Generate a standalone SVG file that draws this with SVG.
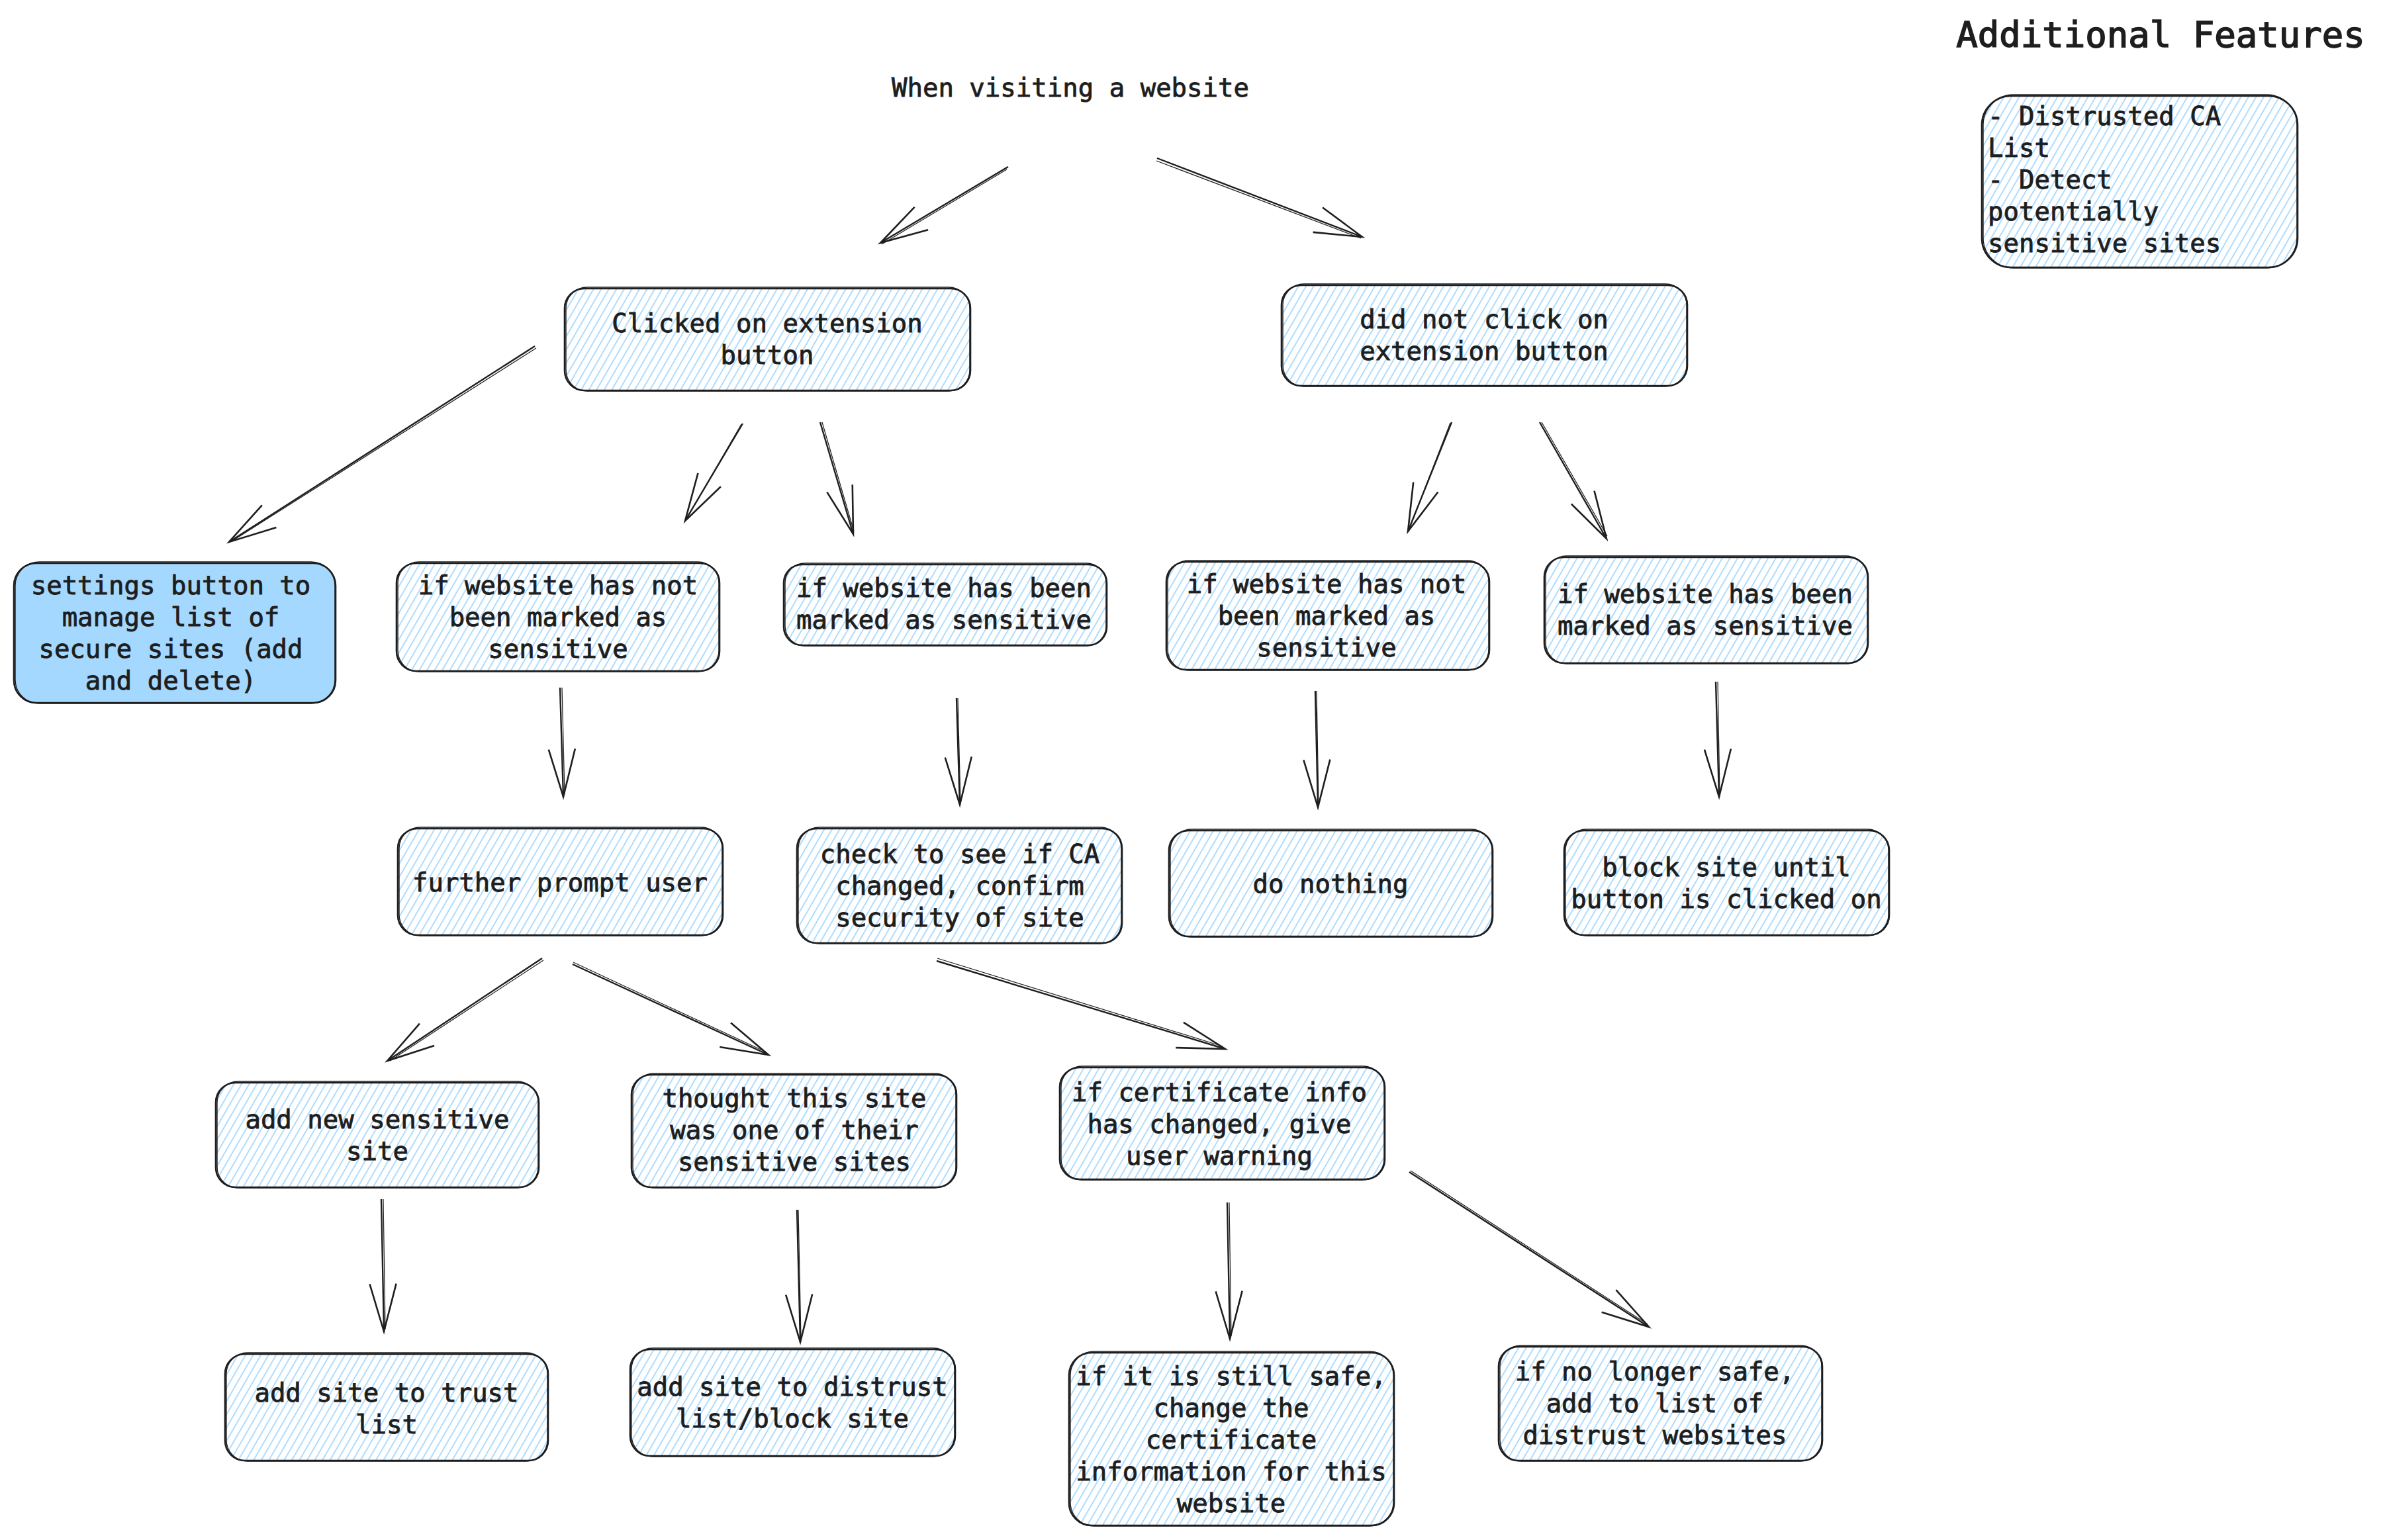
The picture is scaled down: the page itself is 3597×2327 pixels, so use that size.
<svg xmlns="http://www.w3.org/2000/svg" width="3597" height="2327" viewBox="0 0 3597 2327">
<style>
text{font-family:"DejaVu Sans Mono","Liberation Mono",monospace;font-size:39px;fill:#1e1e1e;stroke:#1e1e1e;stroke-width:0.9;text-anchor:middle}
.l{text-anchor:start}
.title{font-size:54px;stroke-width:1.6}
.box{fill:url(#hatch);stroke:#1e1e1e;stroke-width:2.6}
.solid{fill:#a5d8ff;stroke:#1e1e1e;stroke-width:2.6}
.sk{fill:none;stroke:#1e1e1e;stroke-width:1.4}
.c{fill:none;stroke:#1e1e1e;stroke-width:2.4;marker-end:url(#ah)}
.c2{fill:none;stroke:#1e1e1e;stroke-width:1.2}
</style>
<defs>
<pattern id="hatch" width="10" height="10" patternUnits="userSpaceOnUse" patternTransform="rotate(30)">
<line x1="5" y1="0" x2="5" y2="10" stroke="#a5d8ff" stroke-width="1.8"/>
</pattern>
<marker id="ah" viewBox="-80 -30 90 60" refX="0" refY="0" markerWidth="90" markerHeight="60" markerUnits="userSpaceOnUse" orient="auto">
<path d="M-72,-20 L0,0 L-72,20" fill="none" stroke="#1e1e1e" stroke-width="2.6"/>
</marker>
</defs>
<rect width="3597" height="2327" fill="#ffffff"/>

<g id="title">
<text x="3264" y="71" class="title">Additional Features</text>
</g>
<g id="start">
<text x="1617" y="146">When visiting a website</text>
</g>

<g id="connectors">
<path class="c" d="M1523,252 L1330,367"/><path class="c2" d="M1521,256 L1332,369"/>
<path class="c" d="M1748,239 L2058,358"/><path class="c2" d="M1747,243 L2056,360"/>
<path class="c" d="M808,523 L346,819"/><path class="c2" d="M810,526 L350,818"/>
<path class="c" d="M1122,640 L1035,787"/><path class="c2" d="M1120,641 L1037,784"/>
<path class="c" d="M1239,638 L1289,807"/><path class="c2" d="M1242,638 L1290,803"/>
<path class="c" d="M2193,638 L2127,803"/><path class="c2" d="M2191,639 L2129,799"/>
<path class="c" d="M2326,638 L2427,814"/><path class="c2" d="M2329,638 L2428,810"/>
<path class="c" d="M846,1039 L851,1204"/><path class="c2" d="M849,1039 L853,1200"/>
<path class="c" d="M1445,1055 L1450,1216"/><path class="c2" d="M1447,1055 L1451,1212"/>
<path class="c" d="M1987,1044 L1991,1220"/><path class="c2" d="M1989,1044 L1992,1216"/>
<path class="c" d="M2592,1030 L2597,1204"/><path class="c2" d="M2595,1030 L2598,1200"/>
<path class="c" d="M819,1448 L585,1603"/><path class="c2" d="M821,1451 L589,1603"/>
<path class="c" d="M865,1457 L1161,1594"/><path class="c2" d="M866,1454 L1158,1590"/>
<path class="c" d="M1415,1452 L1851,1585"/><path class="c2" d="M1416,1448 L1847,1581"/>
<path class="c" d="M576,1812 L580,2012"/><path class="c2" d="M579,1812 L582,2008"/>
<path class="c" d="M1204,1828 L1209,2028"/><path class="c2" d="M1206,1828 L1210,2024"/>
<path class="c" d="M1854,1817 L1858,2023"/><path class="c2" d="M1857,1817 L1860,2019"/>
<path class="c" d="M2129,1771 L2491,2005"/><path class="c2" d="M2131,1769 L2489,2001"/>
</g>

<g id="n1">
<rect class="box" x="853" y="436" width="613" height="154" rx="30"/>
<rect class="sk" x="855" y="434" width="610" height="157" rx="32"/>
<text x="1159" y="502">Clicked on extension</text>
<text x="1159" y="550">button</text>
</g>
<g id="n2">
<rect class="box" x="1936" y="431" width="613" height="152" rx="30"/>
<rect class="sk" x="1938" y="429" width="610" height="155" rx="32"/>
<text x="2242" y="496">did not click on</text>
<text x="2242" y="544">extension button</text>
</g>
<g id="n3">
<rect class="solid" x="21" y="851" width="486" height="211" rx="34"/>
<rect class="sk" x="23" y="849" width="483" height="214" rx="36"/>
<text x="258" y="898">settings button to</text>
<text x="258" y="946">manage list of</text>
<text x="258" y="994">secure sites (add</text>
<text x="258" y="1042">and delete)</text>
</g>
<g id="n4">
<rect class="box" x="599" y="851" width="488" height="163" rx="30"/>
<rect class="sk" x="601" y="849" width="485" height="166" rx="32"/>
<text x="843" y="898">if website has not</text>
<text x="843" y="946">been marked as</text>
<text x="843" y="994">sensitive</text>
</g>
<g id="n5">
<rect class="box" x="1184" y="853" width="488" height="122" rx="28"/>
<rect class="sk" x="1186" y="851" width="485" height="125" rx="30"/>
<text x="1426" y="902">if website has been</text>
<text x="1426" y="950">marked as sensitive</text>
</g>
<g id="n6">
<rect class="box" x="1762" y="849" width="488" height="163" rx="30"/>
<rect class="sk" x="1764" y="847" width="485" height="166" rx="32"/>
<text x="2004" y="896">if website has not</text>
<text x="2004" y="944">been marked as</text>
<text x="2004" y="992">sensitive</text>
</g>
<g id="n7">
<rect class="box" x="2333" y="842" width="489" height="160" rx="30"/>
<rect class="sk" x="2335" y="840" width="486" height="163" rx="32"/>
<text x="2576" y="911">if website has been</text>
<text x="2576" y="959">marked as sensitive</text>
</g>
<g id="n8">
<rect class="box" x="601" y="1252" width="491" height="161" rx="30"/>
<rect class="sk" x="603" y="1250" width="488" height="164" rx="32"/>
<text x="846" y="1347">further prompt user</text>
</g>
<g id="n9">
<rect class="box" x="1204" y="1252" width="491" height="173" rx="30"/>
<rect class="sk" x="1206" y="1250" width="488" height="176" rx="32"/>
<text x="1450" y="1304">check to see if CA</text>
<text x="1450" y="1352">changed, confirm</text>
<text x="1450" y="1400">security of site</text>
</g>
<g id="n10">
<rect class="box" x="1766" y="1255" width="489" height="160" rx="30"/>
<rect class="sk" x="1768" y="1253" width="486" height="163" rx="32"/>
<text x="2010" y="1349">do nothing</text>
</g>
<g id="n11">
<rect class="box" x="2363" y="1255" width="491" height="158" rx="30"/>
<rect class="sk" x="2365" y="1253" width="488" height="161" rx="32"/>
<text x="2608" y="1324">block site until</text>
<text x="2608" y="1372">button is clicked on</text>
</g>
<g id="n12">
<rect class="box" x="326" y="1636" width="488" height="158" rx="30"/>
<rect class="sk" x="328" y="1634" width="485" height="161" rx="32"/>
<text x="570" y="1705">add new sensitive</text>
<text x="570" y="1753">site</text>
</g>
<g id="n13">
<rect class="box" x="954" y="1624" width="491" height="170" rx="30"/>
<rect class="sk" x="956" y="1622" width="488" height="173" rx="32"/>
<text x="1200" y="1673">thought this site</text>
<text x="1200" y="1721">was one of their</text>
<text x="1200" y="1769">sensitive sites</text>
</g>
<g id="n14">
<rect class="box" x="1601" y="1613" width="491" height="169" rx="30"/>
<rect class="sk" x="1603" y="1611" width="488" height="172" rx="32"/>
<text x="1842" y="1664">if certificate info</text>
<text x="1842" y="1712">has changed, give</text>
<text x="1842" y="1760">user warning</text>
</g>
<g id="n15">
<rect class="box" x="340" y="2046" width="488" height="161" rx="30"/>
<rect class="sk" x="342" y="2044" width="485" height="164" rx="32"/>
<text x="584" y="2118">add site to trust</text>
<text x="584" y="2166">list</text>
</g>
<g id="n16">
<rect class="box" x="952" y="2039" width="491" height="161" rx="30"/>
<rect class="sk" x="954" y="2037" width="488" height="164" rx="32"/>
<text x="1197" y="2109">add site to distrust</text>
<text x="1197" y="2157">list/block site</text>
</g>
<g id="n17">
<rect class="box" x="1615" y="2044" width="491" height="261" rx="34"/>
<rect class="sk" x="1617" y="2042" width="488" height="264" rx="36"/>
<text x="1860" y="2093">if it is still safe,</text>
<text x="1860" y="2141">change the</text>
<text x="1860" y="2189">certificate</text>
<text x="1860" y="2237">information for this</text>
<text x="1860" y="2285">website</text>
</g>
<g id="n18">
<rect class="box" x="2264" y="2035" width="489" height="172" rx="30"/>
<rect class="sk" x="2266" y="2033" width="486" height="175" rx="32"/>
<text x="2500" y="2086">if no longer safe,</text>
<text x="2500" y="2134">add to list of</text>
<text x="2500" y="2182">distrust websites</text>
</g>
<g id="n19">
<rect class="box" x="2994" y="145" width="477" height="259" rx="44"/>
<rect class="sk" x="2996" y="143" width="474" height="262" rx="46"/>
<text class="l" x="3003" y="189">- Distrusted CA</text>
<text class="l" x="3003" y="237">List</text>
<text class="l" x="3003" y="285">- Detect</text>
<text class="l" x="3003" y="333">potentially</text>
<text class="l" x="3003" y="381">sensitive sites</text>
</g>
</svg>
